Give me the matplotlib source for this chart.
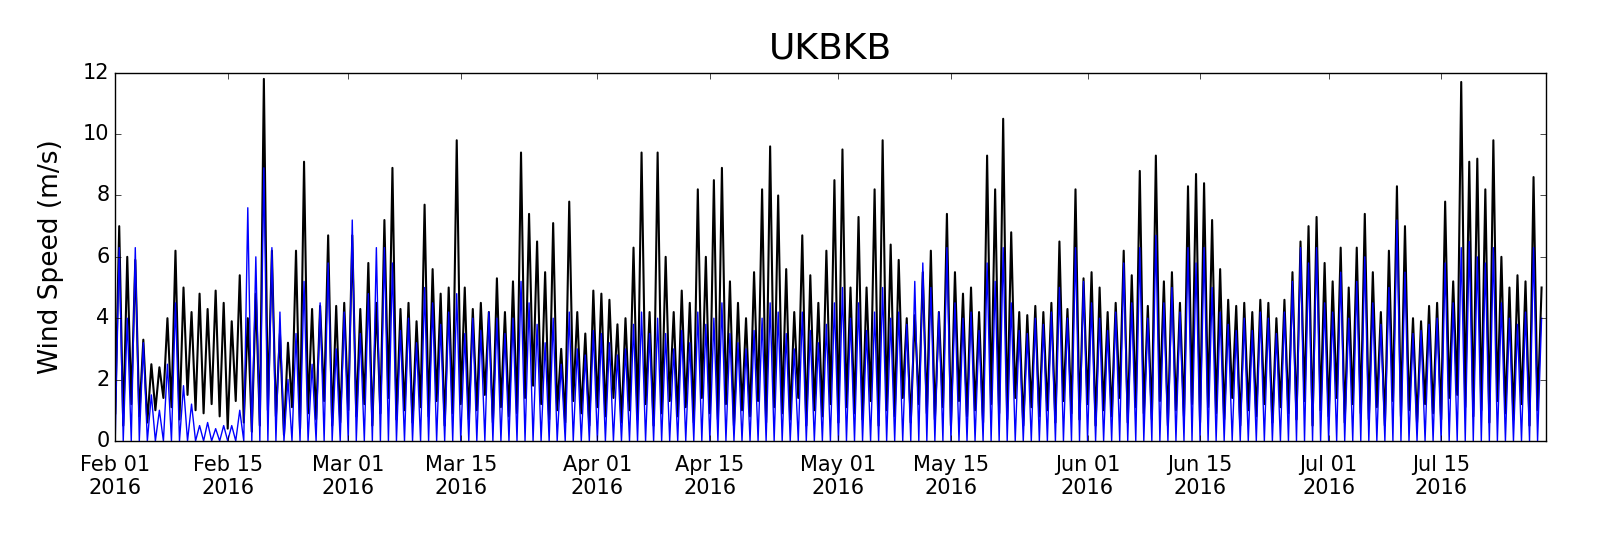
import matplotlib
matplotlib.use("Agg")
import matplotlib.pyplot as plt
import matplotlib.dates as mdates
import numpy as np
import pandas as pd

plt.style.use("classic")

start = "2016-02-01"
n_days = 178

# daily peak / trough estimates
black_max = [7.0,6.0,5.9,3.3,2.5,2.4,4.0,6.2,5.0,4.2,
             4.8,4.3,4.9,4.5,3.9,5.4,4.0,4.8,11.8,6.2,
             3.5,3.2,6.2,9.1,4.3,4.4,6.7,4.4,4.5,6.7,
             4.3,5.8,4.5,7.2,8.9,4.3,4.5,3.9,7.7,5.6,
             4.8,5.0,9.8,5.0,4.3,4.5,4.2,5.3,4.2,5.2,
             9.4,7.4,6.5,5.5,7.1,3.0,7.8,4.2,3.5,4.9,
             4.8,4.6,3.8,4.0,6.3,9.4,4.2,9.4,6.0,4.2,
             4.9,4.5,8.2,6.0,8.5,8.9,5.2,4.5,4.0,5.5,
             8.2,9.6,8.0,5.6,4.2,6.7,5.4,4.5,6.2,8.5,
             9.5,5.0,7.3,5.0,8.2,9.8,6.4,5.9,4.0,4.1,
             5.5,6.2,4.2,7.4,5.5,4.8,5.0,4.2,9.3,8.2,
             10.5,6.8,4.2,4.1,4.4,4.2,4.5,6.5,4.3,8.2,
             5.3,5.5,5.0,4.2,4.5,6.2,5.4,8.8,4.4,9.3,
             5.2,5.5,4.5,8.3,8.7,8.4,7.2,5.6,4.6,4.4,
             4.5,4.2,4.6,4.5,4.0,4.6,5.5,6.5,7.0,7.3,
             5.8,5.2,6.3,5.0,6.3,7.4,5.5,4.2,6.2,8.3,
             7.0,4.0,3.9,4.4,4.5,7.8,5.2,11.7,9.1,9.2,
             8.2,9.8,6.0,5.0,5.4,5.2,8.6,5.0]
black_min = [0.9,0.5,1.2,0.8,0.6,1.0,1.4,1.1,0.7,1.5,
             1.0,0.9,1.2,0.8,0.4,1.3,0.6,0.3,0.5,1.0,
             0.8,0.2,1.1,0.4,0.9,0.7,1.3,0.5,0.6,1.0,
             0.8,1.2,0.5,0.9,1.4,0.7,1.0,0.6,1.1,0.8,
             1.3,0.5,0.9,1.2,0.7,1.0,1.5,0.6,1.1,0.8,
             0.9,1.4,1.8,1.2,0.7,1.0,0.6,1.3,0.9,0.5,
             1.1,0.8,1.4,0.6,1.0,0.7,1.2,0.5,0.9,1.3,
             0.8,1.1,0.6,1.4,0.9,0.7,1.2,0.5,1.0,0.8,
             1.3,0.6,1.1,0.9,0.7,1.4,0.5,1.0,0.8,1.2,
             0.6,1.1,0.9,0.7,1.3,0.5,1.0,0.8,1.4,0.6,
             1.2,0.9,0.7,1.1,0.5,1.3,0.8,1.0,0.6,1.2,
             0.9,0.7,1.4,0.5,1.1,0.8,1.0,0.6,1.3,0.9,
             0.7,1.2,0.5,1.0,0.8,1.4,0.6,1.1,0.9,0.7,
             1.3,0.5,1.0,0.8,1.2,0.6,1.1,0.9,0.7,1.4,
             0.5,1.0,0.8,1.2,0.6,1.1,0.9,0.7,1.3,0.5,
             1.0,0.8,1.4,0.6,1.2,0.9,0.7,1.1,0.5,1.3,
             0.8,1.0,0.6,1.2,0.9,0.7,1.4,1.5,1.1,0.8,
             1.0,0.6,1.3,0.9,0.7,1.2,0.5,1.0]
blue_max = [6.3,4.0,6.3,3.2,1.5,1.0,2.5,4.5,1.8,1.2,
            0.5,0.6,0.4,0.5,0.5,1.0,7.6,6.0,8.9,6.3,
            4.2,2.0,3.5,5.2,2.5,4.5,5.8,3.0,4.2,7.2,
            3.5,4.8,6.3,6.3,5.8,3.6,4.0,3.2,5.0,4.5,
            3.8,4.2,4.8,3.5,4.0,3.6,4.2,4.0,3.5,4.0,
            5.2,4.5,3.8,3.2,4.0,2.5,4.2,3.0,2.8,3.6,
            3.5,3.2,2.8,3.0,3.8,4.2,3.5,4.0,3.5,3.0,
            3.6,3.2,4.2,3.8,4.0,4.5,3.5,3.2,3.0,3.6,
            4.0,4.5,4.2,3.5,3.0,4.2,3.6,3.2,3.8,4.5,
            5.0,4.0,4.5,3.6,4.2,5.0,4.0,4.2,3.8,5.2,
            5.8,5.0,4.2,6.3,4.5,4.0,4.2,3.6,5.8,5.2,
            6.3,4.5,3.6,3.5,4.0,3.8,4.2,5.0,4.0,6.3,
            5.2,4.5,4.0,3.6,4.2,5.8,4.5,6.3,4.0,6.7,
            4.5,5.0,4.2,6.3,5.8,6.3,5.0,4.2,3.8,3.6,
            4.0,3.6,4.2,4.0,3.5,4.2,5.2,6.3,5.8,6.3,
            4.5,4.2,5.5,4.0,5.2,6.0,4.5,3.8,5.0,7.2,
            5.5,3.5,3.6,3.8,4.0,5.8,4.5,6.3,6.5,6.0,
            5.8,6.3,4.5,4.0,3.8,4.2,6.3,4.0]
blue_min = [0.0] * n_days

times = pd.date_range(start, periods=2 * n_days, freq="12h")
black = np.ravel(np.column_stack([black_min, black_max]))
blue = np.ravel(np.column_stack([blue_min, blue_max]))

fig = plt.figure(figsize=(16, 5.43), dpi=100, facecolor="white")
ax = fig.add_axes([0.072, 0.188, 0.894, 0.678])
ax.plot(times, black, color="black", linewidth=1.5)
ax.plot(times, blue, color="blue", linewidth=1.0)

ax.set_xlim(pd.Timestamp(start), pd.Timestamp(start) + pd.Timedelta(days=n_days))
ax.set_ylim(0, 12)
ax.set_yticks([0, 2, 4, 6, 8, 10, 12])
ax.xaxis.set_major_locator(mdates.DayLocator(bymonthday=[1, 15]))
ax.xaxis.set_major_formatter(mdates.DateFormatter("%b %d\n%Y"))
ax.tick_params(labelsize=15)
ax.tick_params(axis="x", pad=10)
ax.set_ylabel("Wind Speed (m/s)", fontsize=19, labelpad=14)
ax.set_title("UKBKB", fontsize=26, pad=10)

fig.savefig("out.png", dpi=100, facecolor="white")
